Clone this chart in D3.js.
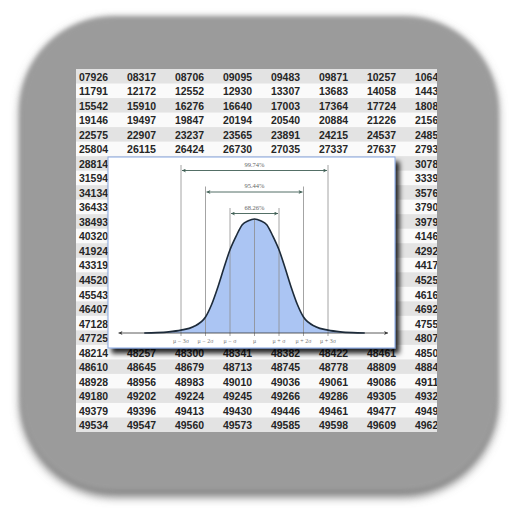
<!DOCTYPE html>
<html>
<head>
<meta charset="utf-8">
<script src="https://cdn.jsdelivr.net/npm/d3@7/dist/d3.min.js"></script>
<style>
html, body { margin: 0; padding: 0; background: #fff; }
svg { display: block; }
</style>
</head>
<body>
<svg id="canvas"></svg>
<script>
const width = 512;
const height = 512;

// 正規分布表 (5桁)
const tableRows = [
    ['07926', '08317', '08706', '09095', '09483', '09871', '10257', '10642'],
    ['11791', '12172', '12552', '12930', '13307', '13683', '14058', '14431'],
    ['15542', '15910', '16276', '16640', '17003', '17364', '17724', '18082'],
    ['19146', '19497', '19847', '20194', '20540', '20884', '21226', '21566'],
    ['22575', '22907', '23237', '23565', '23891', '24215', '24537', '24857'],
    ['25804', '26115', '26424', '26730', '27035', '27337', '27637', '27935'],
    ['28814', '29103', '29389', '29673', '29955', '30234', '30511', '30785'],
    ['31594', '31859', '32121', '32381', '32639', '32894', '33147', '33398'],
    ['34134', '34375', '34614', '34849', '35083', '35314', '35543', '35769'],
    ['36433', '36650', '36864', '37076', '37286', '37493', '37698', '37900'],
    ['38493', '38686', '38877', '39065', '39251', '39435', '39617', '39796'],
    ['40320', '40490', '40658', '40824', '40988', '41149', '41308', '41466'],
    ['41924', '42073', '42220', '42364', '42507', '42647', '42785', '42922'],
    ['43319', '43448', '43574', '43699', '43822', '43943', '44062', '44179'],
    ['44520', '44630', '44738', '44845', '44950', '45053', '45154', '45254'],
    ['45543', '45637', '45728', '45818', '45907', '45994', '46080', '46164'],
    ['46407', '46485', '46562', '46638', '46712', '46784', '46856', '46926'],
    ['47128', '47193', '47257', '47320', '47381', '47441', '47500', '47558'],
    ['47725', '47778', '47831', '47882', '47932', '47982', '48030', '48077'],
    ['48214', '48257', '48300', '48341', '48382', '48422', '48461', '48500'],
    ['48610', '48645', '48679', '48713', '48745', '48778', '48809', '48840'],
    ['48928', '48956', '48983', '49010', '49036', '49061', '49086', '49111'],
    ['49180', '49202', '49224', '49245', '49266', '49286', '49305', '49324'],
    ['49379', '49396', '49413', '49430', '49446', '49461', '49477', '49492'],
    ['49534', '49547', '49560', '49573', '49585', '49598', '49609', '49621']
];

// ベルカーブ (σ単位, ピーク比の高さ) - 図から読み取り
const curveSigma = [-4.5, -4, -3.5, -3, -2.5, -2, -1.75, -1.5, -1.25, -1, -0.75, -0.5, -0.25, 0,
    0.25, 0.5, 0.75, 1, 1.25, 1.5, 1.75, 2, 2.5, 3, 3.5, 4, 4.5];
const curveHeight = [0, 0.003, 0.01, 0.025, 0.055, 0.14, 0.25, 0.40, 0.57, 0.73, 0.85, 0.95, 0.985, 1,
    0.985, 0.95, 0.85, 0.73, 0.57, 0.40, 0.25, 0.14, 0.055, 0.025, 0.01, 0.003, 0];

const tickSigma = [-3, -2, -1, 0, 1, 2, 3];
const tickLabels = ['μ − 3σ', 'μ − 2σ', 'μ − σ', 'μ', 'μ + σ', 'μ + 2σ', 'μ + 3σ'];

const intervalSigma = [1, 2, 3];
const intervalLabels = ['68.26%', '95.44%', '99.74%'];

// 挿入図の枠
const inset = { x: 108, y: 157, w: 287, h: 191 };

const svg = d3.select('#canvas')
    .attr('width', width)
    .attr('height', height);

const defs = svg.append('defs');

defs.append('filter')
    .attr('id', 'soft')
    .attr('x', '-10%').attr('y', '-10%')
    .attr('width', '120%').attr('height', '120%')
    .append('feGaussianBlur')
    .attr('stdDeviation', 2.5);

defs.append('filter')
    .attr('id', 'outer')
    .attr('x', '-10%').attr('y', '-10%')
    .attr('width', '120%').attr('height', '120%')
    .append('feGaussianBlur')
    .attr('stdDeviation', 5);

defs.append('filter')
    .attr('id', 'drop')
    .attr('x', '-10%').attr('y', '-10%')
    .attr('width', '125%').attr('height', '130%')
    .append('feDropShadow')
    .attr('dx', 4).attr('dy', 5)
    .attr('stdDeviation', 2.5)
    .attr('flood-color', '#000')
    .attr('flood-opacity', 0.85);

defs.append('clipPath')
    .attr('id', 'table-clip')
    .append('rect')
    .attr('x', 76).attr('y', 69)
    .attr('width', 361).attr('height', 363);

const marker = (id, color, w, h) => {
    defs.append('marker')
        .attr('id', id)
        .attr('viewBox', '0 0 10 10')
        .attr('refX', 10).attr('refY', 5)
        .attr('markerUnits', 'userSpaceOnUse')
        .attr('markerWidth', w).attr('markerHeight', h)
        .attr('orient', 'auto-start-reverse')
        .append('path')
        .attr('d', 'M0,0L10,5L0,10L3,5z')
        .attr('fill', color);
};
marker('arrow-axis', '#333', 7, 4);
marker('arrow-int', '#3f5f55', 6, 4);

// 背景の角丸グレー
svg.append('rect')
    .attr('x', 20).attr('y', 19)
    .attr('width', 478).attr('height', 478)
    .attr('rx', 95)
    .attr('fill', '#7d7d7d')
    .attr('filter', 'url(#outer)');
svg.append('rect')
    .attr('x', 21).attr('y', 17)
    .attr('width', 476).attr('height', 474)
    .attr('rx', 92)
    .attr('fill', '#9b9b9b')
    .attr('filter', 'url(#soft)');

// 表
const rowScale = d3.scaleBand()
    .domain(d3.range(tableRows.length))
    .range([69, 432]);
const colScale = d3.scaleLinear()
    .domain([0, 7])
    .range([79, 415]);
const cellW = 29;

const table = svg.append('g')
    .attr('clip-path', 'url(#table-clip)');

table.append('rect')
    .attr('x', 76).attr('y', 69)
    .attr('width', 361).attr('height', 363)
    .attr('fill', '#fafafa');

table.selectAll('rect.stripe')
    .data(tableRows.filter((d, i) => i % 2 === 0))
    .join('rect')
    .attr('class', 'stripe')
    .attr('x', 76)
    .attr('y', (d, i) => rowScale(i * 2))
    .attr('width', 361)
    .attr('height', rowScale.bandwidth())
    .attr('fill', '#e3e3e3');

// 挿入図に完全に隠れるセルは描かない
const cells = [];
tableRows.forEach((row, i) => row.forEach((v, j) => {
    const cx = colScale(j);
    const cy = rowScale(i) + rowScale.bandwidth() / 2 + 0.5;
    const hidden = cx >= inset.x && cx + cellW <= inset.x + inset.w + 5
        && cy - 5 >= inset.y && cy + 5 <= inset.y + inset.h;
    if (!hidden) cells.push({ v: v, x: cx, y: cy });
}));

table.selectAll('text')
    .data(cells)
    .join('text')
    .attr('x', d => d.x)
    .attr('y', d => d.y)
    .attr('dy', '0.36em')
    .attr('textLength', cellW)
    .attr('lengthAdjust', 'spacingAndGlyphs')
    .attr('font-family', '"Liberation Sans", Arial, sans-serif')
    .attr('font-size', 11)
    .attr('font-weight', 'bold')
    .attr('fill', '#262626')
    .text(d => d.v);

// 挿入図
svg.append('rect')
    .attr('x', inset.x).attr('y', inset.y)
    .attr('width', inset.w).attr('height', inset.h)
    .attr('fill', '#fff')
    .attr('stroke', '#86a6e0')
    .attr('stroke-width', 1)
    .attr('filter', 'url(#drop)');

const x = d3.scaleLinear()
    .domain([-3, 3])
    .range([181, 328]);
const y = d3.scaleLinear()
    .domain([0, 1])
    .range([333, 219]);

const chart = svg.append('g');
const curveData = curveSigma.map((s, i) => ({ s: s, h: curveHeight[i] }));

// 塗り
chart.append('path')
    .datum(curveData)
    .attr('fill', '#abc5f3')
    .attr('d', d3.area()
        .x(d => x(d.s))
        .y0(y(0))
        .y1(d => y(d.h))
        .curve(d3.curveMonotoneX));

// 縦線
const lineTop = s => {
    const k = Math.abs(s);
    return k === 0 ? y(1) : y(1) - 11 - (k - 1) * 21.5;
};
chart.selectAll('line.v')
    .data(tickSigma)
    .join('line')
    .attr('class', 'v')
    .attr('x1', d => x(d)).attr('x2', d => x(d))
    .attr('y1', d => lineTop(d))
    .attr('y2', y(0) + 3)
    .attr('stroke', '#8d8d8d')
    .attr('stroke-width', 0.8);

// 軸
chart.append('line')
    .attr('x1', x(-5.55)).attr('x2', x(5.45))
    .attr('y1', y(0)).attr('y2', y(0))
    .attr('stroke', '#333')
    .attr('stroke-width', 0.8)
    .attr('marker-start', 'url(#arrow-axis)')
    .attr('marker-end', 'url(#arrow-axis)');

// カーブ
chart.append('path')
    .datum(curveData)
    .attr('fill', 'none')
    .attr('stroke', '#1d2b3a')
    .attr('stroke-width', 1.6)
    .attr('d', d3.line()
        .x(d => x(d.s))
        .y(d => y(d.h))
        .curve(d3.curveMonotoneX));

// 軸ラベル
chart.selectAll('text.tick')
    .data(tickSigma)
    .join('text')
    .attr('class', 'tick')
    .attr('x', d => x(d))
    .attr('y', y(0) + 10)
    .attr('text-anchor', 'middle')
    .attr('font-family', '"Liberation Serif", serif')
    .attr('font-size', 6)
    .attr('fill', '#777')
    .text((d, i) => tickLabels[i]);

// 区間の矢印
const intervals = chart.selectAll('g.interval')
    .data(intervalSigma)
    .join('g')
    .attr('class', 'interval');

intervals.append('line')
    .attr('x1', d => x(-d) + 1).attr('x2', d => x(d) - 1)
    .attr('y1', d => lineTop(d) + 5.5)
    .attr('y2', d => lineTop(d) + 5.5)
    .attr('stroke', '#3f5f55')
    .attr('stroke-width', 0.9)
    .attr('marker-start', 'url(#arrow-int)')
    .attr('marker-end', 'url(#arrow-int)');

intervals.append('text')
    .attr('x', x(0))
    .attr('y', d => lineTop(d) + 1.5)
    .attr('text-anchor', 'middle')
    .attr('font-family', '"Liberation Serif", serif')
    .attr('font-size', 6.5)
    .attr('fill', '#666')
    .text((d, i) => intervalLabels[i]);
</script>
</body>
</html>
